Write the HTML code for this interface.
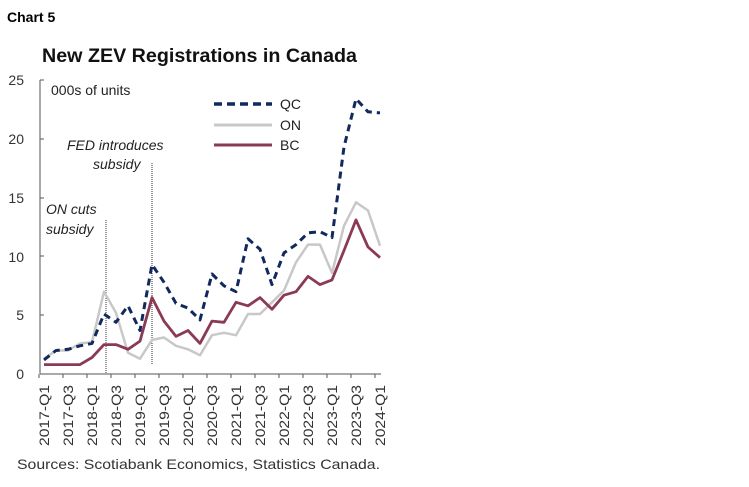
<!DOCTYPE html>
<html><head><meta charset="utf-8"><style>
body{margin:0;background:#fff;width:749px;height:482px;overflow:hidden}
svg{font-family:"Liberation Sans",sans-serif}
</style></head><body>
<svg id="s" width="749" height="482" xmlns="http://www.w3.org/2000/svg">
<text x="7" y="22" font-size="14" font-weight="bold" fill="#000">Chart 5</text>
<text x="42" y="62" font-size="19" font-weight="bold" fill="#111" textLength="315" lengthAdjust="spacingAndGlyphs">New ZEV Registrations in Canada</text>
<g font-size="14" fill="#333" text-anchor="end">
<text x="24" y="379">0</text><text x="24" y="320">5</text><text x="24" y="262">10</text>
<text x="24" y="203">15</text><text x="24" y="144">20</text><text x="24" y="85">25</text>
</g>
<g stroke="#555" stroke-width="1" fill="none">
<line x1="40" y1="80" x2="40" y2="374"/>
<line x1="40" y1="374" x2="381" y2="374"/>
<line x1="40" y1="80" x2="44" y2="80"/><line x1="40" y1="139" x2="44" y2="139"/>
<line x1="40" y1="198" x2="44" y2="198"/><line x1="40" y1="256" x2="44" y2="256"/>
<line x1="40" y1="315" x2="44" y2="315"/>
</g>
<g id="ticks" stroke="#555"></g>
<text x="51" y="95" font-size="14" fill="#222">000s of units</text>
<line x1="106" y1="220" x2="106" y2="374" stroke="#333" stroke-width="1" stroke-dasharray="1,1"/>
<line x1="152" y1="163" x2="152" y2="364" stroke="#333" stroke-width="1" stroke-dasharray="1,1"/>
<g font-size="14" font-style="italic" fill="#222">
<text x="46" y="214">ON cuts</text><text x="46" y="234">subsidy</text>
<text x="67" y="150">FED introduces</text><text x="93" y="169">subsidy</text>
</g>
<g id="lines"></g>
<line x1="214" y1="104" x2="272" y2="104" stroke="#12295e" stroke-width="3.5" stroke-dasharray="8,5"/>
<line x1="214" y1="125" x2="272" y2="125" stroke="#c8c8c8" stroke-width="3"/>
<line x1="214" y1="145" x2="272" y2="145" stroke="#8b3a55" stroke-width="3"/>
<g font-size="14" fill="#222"><text x="280" y="109">QC</text><text x="280" y="130">ON</text><text x="280" y="150">BC</text></g>
<g id="xl" font-size="14" fill="#333"></g>
<text x="17" y="469" font-size="14" fill="#333" textLength="363" lengthAdjust="spacingAndGlyphs">Sources: Scotiabank Economics, Statistics Canada.</text>
</svg>
<script>
var NS="http://www.w3.org/2000/svg";
var QC=[1.2,2.0,2.1,2.4,2.6,5.1,4.4,5.8,3.7,9.3,7.8,6.0,5.6,4.6,8.5,7.5,7.0,11.5,10.6,7.6,10.3,11.0,12.0,12.1,11.6,19.3,23.4,22.3,22.2];
var ON=[1.3,2.0,2.0,2.6,2.7,7.0,5.2,1.8,1.3,2.9,3.1,2.4,2.1,1.6,3.3,3.5,3.3,5.1,5.1,6.1,7.1,9.5,11.0,11.0,8.6,12.6,14.6,13.9,10.9];
var BC=[0.8,0.8,0.8,0.8,1.4,2.5,2.5,2.1,2.8,6.5,4.5,3.2,3.7,2.6,4.5,4.4,6.1,5.8,6.5,5.5,6.7,7.0,8.3,7.6,8.0,10.5,13.1,10.8,9.9];
function pts(a){return a.map(function(v,i){return (44+12*i)+","+(374-v*11.76).toFixed(1)}).join(" ")}
var g=document.getElementById("lines");
function pl(a,c,w,d){var p=document.createElementNS(NS,"polyline");p.setAttribute("points",pts(a));p.setAttribute("fill","none");p.setAttribute("stroke",c);p.setAttribute("stroke-width",w);p.setAttribute("stroke-linejoin","round");if(d)p.setAttribute("stroke-dasharray",d);g.appendChild(p)}
pl(ON,"#c8c8c8",2.5);pl(BC,"#8b3a55",2.8);pl(QC,"#12295e",3,"7,5");
var t=document.getElementById("ticks");
for(var k=0;k<=14;k++){var x=39+24*k;var l=document.createElementNS(NS,"line");l.setAttribute("x1",x);l.setAttribute("x2",x);l.setAttribute("y1",374);l.setAttribute("y2",378);t.appendChild(l)}
var xl=document.getElementById("xl");
for(var i=0;i<=28;i+=2){var yr=2017+Math.floor(i/4);var q=(i%4)+1;var x=44+12*i+5;
var tx=document.createElementNS(NS,"text");tx.setAttribute("transform","translate("+x+",385) rotate(-90)");tx.setAttribute("text-anchor","end");tx.setAttribute("textLength","61");tx.setAttribute("lengthAdjust","spacingAndGlyphs");tx.textContent=yr+"-Q"+q;xl.appendChild(tx)}
</script>
</body></html>
